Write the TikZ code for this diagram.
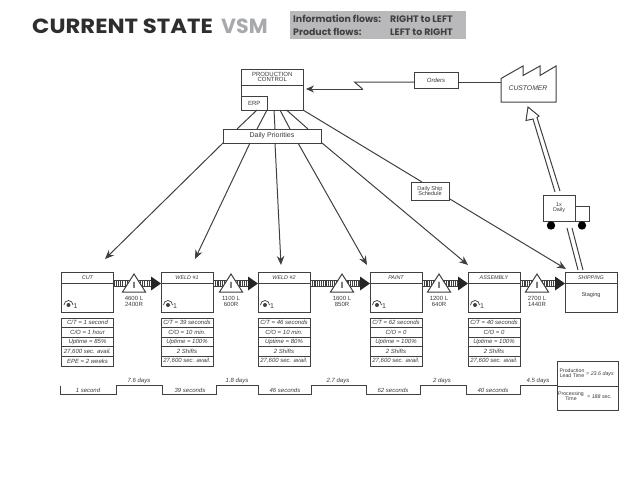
\documentclass[tikz,border=0pt]{standalone}
\usepackage{fontspec}
\setmainfont{Liberation Sans}
\newfontfamily\titlef{Poppins}
\newfontfamily\titlewide[FakeStretch=1.11]{Poppins}
\usetikzlibrary{arrows.meta}
\definecolor{ink}{HTML}{404040}
\definecolor{txt}{HTML}{3A3A3A}
\definecolor{greyv}{HTML}{A7A9AC}
\definecolor{legend}{HTML}{B9B9BB}
\newcommand\hand[1]{\fontsize{#1}{#1}\selectfont\itshape\color{txt}}
\newcommand\handup[1]{\fontsize{#1}{#1}\selectfont\color{txt}}
\tikzset{
  x=1pt,y=-1pt,
  line/.style={draw=ink,line width=1pt},
  bx/.style={line,fill=white,inner sep=0pt,outer sep=0pt,align=center,anchor=north west},
  flow/.style={line,-{Stealth[length=9pt,width=7.5pt]}},
  plain/.style={line},
  lab/.style={inner sep=0pt,align=center,text=txt},
  time/.style={lab,font=\hand{6}},
  stockl/.style={lab,font=\handup{6}},
  legt/.style={anchor=base west,inner sep=0pt,font=\titlef\bfseries\fontsize{9.4}{9.4}\selectfont,text=black!75},
}
\newcommand\proc[4]{% name, x, header, operator
  \node[bx,minimum width=52,minimum height=11.5,font=\hand{5.4}] (#1H) at (#2,272) {#3};
  \node[bx,minimum width=52,minimum height=28.5] (#1B) at (#2,283.5) {};
}
\newcommand\oper[2]{% name, x
  \fill[ink] (#2+7,305) circle (2);
  \draw[ink,line width=.7pt] (#2+2.5,305) arc[start angle=180,end angle=360,radius=4.5];
  \node[lab,font=\handup{7}] (#1O) at (#2+14,306) {1};
}
\newcommand\data[7]{%
  \node[bx,minimum width=52,minimum height=9.6,font=\hand{6}] (#1a) at (#2,318) {#3};
  \node[bx,minimum width=52,minimum height=9.6,font=\hand{6}] (#1b) at (#2,327.6) {#4};
  \node[bx,minimum width=52,minimum height=9.6,font=\hand{6}] (#1c) at (#2,337.2) {#5};
  \node[bx,minimum width=52,minimum height=9.6,font=\hand{6}] (#1d) at (#2,346.8) {#6};
  \node[bx,minimum width=52,minimum height=9.6,font=\hand{6}] (#1e) at (#2,356.4) {#7};
}
\newcommand\push[4]{% from, to, triangle x, stock label
  \draw[line width=5.5pt,ink,dash pattern=on 1.1pt off 1.1pt] (#1H.south east) -- ([xshift=-8pt]#2H.south west);
  \draw[ink,line width=.7pt] ([yshift=3pt]#1H.south east) -- ([xshift=-8pt,yshift=3pt]#2H.south west);
  \draw[ink,line width=.7pt] ([yshift=-3pt]#1H.south east) -- ([xshift=-8pt,yshift=-3pt]#2H.south west);
  \fill[black!85] (#2H.south west) -- ++(-10,-7) -- ++(0,14) -- cycle;
  \draw[line,fill=white,line join=miter] (#3,274) -- (#3-11.5,292) -- (#3+11.5,292) -- cycle;
  \node[lab,font=\fontsize{9}{9}\selectfont\bfseries\rmfamily] (#1I) at (#3,285.5) {I};
  \node[stockl,anchor=north] (#1S) at (#3,296.5) {#4};
}
\begin{document}
\begin{tikzpicture}
\useasboundingbox (0,0) rectangle (638,479);
% title
\node[anchor=base west,inner sep=0pt,font=\titlewide\bfseries\fontsize{20.5}{20.5}\selectfont,text=black!82] (title) at (32,34) {CURRENT STATE};
\node[anchor=base west,inner sep=0pt,font=\titlef\bfseries\fontsize{20.5}{20.5}\selectfont,text=greyv] (vsm) at (221,34) {VSM};
% legend
\node[anchor=north west,fill=legend,minimum width=176,minimum height=28,inner sep=0pt] (leg) at (290,11) {};
\node[legt] (l1) at (293,23) {Information flows:};
\node[legt] (l2) at (293,35) {Product flows:};
\node[legt] (l3) at (390,23) {RIGHT to LEFT};
\node[legt] (l4) at (390,35) {LEFT to RIGHT};
% production control
\node[bx,minimum width=61.5,minimum height=16,font=\handup{6},text=txt] (pcH) at (241.5,69) {PRODUCTION\\[-.5pt]CONTROL};
\node[bx,minimum width=61.5,minimum height=25] (pc) at (241.5,85) {};
\node[bx,minimum width=25.5,minimum height=14,font=\handup{6}] (erp) at (241.5,96) {ERP};
% daily priorities
\node[bx,minimum width=98,minimum height=14,font=\handup{7}] (dp) at (223,129) {Daily Priorities};
% orders, customer
\node[bx,minimum width=44,minimum height=16,font=\hand{6}] (orders) at (414,72) {Orders};
\draw[line,fill=white] (501,78.5) -- (523,66) -- (523,75.5) -- (540,66) -- (540,75.5) -- (556,66) -- (556,102) -- (501,102) -- cycle;
\node[lab,font=\hand{6.8}] (customer) at (528,88.5) {CUSTOMER};
\coordinate (custin) at (501,82);
\coordinate (zig1) at (354.5,82);
\coordinate (zig2) at (362.5,89);
\coordinate (pcin) at (306,89);
\draw[plain] (orders.west |- custin) -- (zig1) -- (zig2);
\draw[ink,line width=1pt,-{Stealth[length=8pt,width=7pt]}] (zig2) -- (pcin);
\draw[plain] (orders.east |- custin) -- (custin);
% processes
\proc{cut}{61.5}{CUT}{}
\proc{wa}{161}{WELD \#1}{}
\proc{wb}{258}{WELD \#2}{}
\proc{paint}{370}{PAINT}{}
\proc{asm}{468}{ASSEMBLY}{}
\proc{ship}{565}{SHIPPING}{}
\node[lab,font=\handup{5.6}] (staging) at (591,295) {Staging};
\oper{cut}{61.5}\oper{wa}{161}\oper{wb}{258}\oper{paint}{370}\oper{asm}{468}
% push arrows with inventory
\push{cut}{wa}{134}{4600 L\\2400R}
\push{wa}{wb}{231}{1100 L\\600R}
\push{wb}{paint}{342}{1600 L\\850R}
\push{paint}{asm}{439}{1200 L\\640R}
\push{asm}{ship}{537}{2700 L\\1440R}
% data boxes
\data{dc}{61.5}{C/T = 1 second}{C/O = 1 hour}{Uptime = 85\%}{27,600 sec. avail.}{EPE = 2 weeks}
\data{da}{161}{C/T = 39 seconds}{C/O = 10 min.}{Uptime = 100\%}{2 Shifts}{27,600 sec. avail.}
\data{db}{258}{C/T = 46 seconds}{C/O = 10 min.}{Uptime = 80\%}{2 Shifts}{27,600 sec. avail.}
\data{dp2}{370}{C/T = 62 seconds}{C/O = 0}{Uptime = 100\%}{2 Shifts}{27,600 sec. avail.}
\data{ds}{468}{C/T = 40 seconds}{C/O = 0}{Uptime = 100\%}{2 Shifts}{27,600 sec. avail.}
% connectors from production control through daily priorities
\coordinate (a1) at (257,110); \coordinate (a2) at (237,129);
\coordinate (b1) at (267,110); \coordinate (b2) at (257,129);
\coordinate (c1) at (274,110); \coordinate (c2) at (275,129);
\coordinate (d1) at (280,110); \coordinate (d2) at (290,129);
\coordinate (e1) at (286.5,110); \coordinate (e2) at (308,129);
\coordinate (f1) at (303,110);
\draw[plain] (a1) -- (a2); \draw[plain] (b1) -- (b2); \draw[plain] (c1) -- (c2);
\draw[plain] (d1) -- (d2); \draw[plain] (e1) -- (e2);
\coordinate (a3) at (223,143); \coordinate (b3) at (250,143); \coordinate (c3) at (275,143);
\coordinate (d3) at (298,143); \coordinate (e3) at (322,143);
\coordinate (a4) at (105,259); \coordinate (b4) at (195,259); \coordinate (c4) at (281,265);
\coordinate (d4) at (367,265); \coordinate (e4) at (468,265); \coordinate (f4) at (566,269);
\draw[flow] (a3) -- (a4);
\draw[flow] (b3) -- (b4);
\draw[flow] (c3) -- (c4);
\draw[flow] (d3) -- (d4);
\draw[flow] (e3) -- (e4);
\node[bx,minimum width=38,minimum height=18,font=\handup{5.6}] (dss) at (411,182) {Daily Ship\\Schedule};
\coordinate (g1) at (422,182); \coordinate (g2) at (449,198.5);
\draw[plain] (f1) -- (g1);
\draw[flow] (g2) -- (f4);
% truck
\node[bx,minimum width=32,minimum height=26,font=\handup{5.4}] (truck) at (543,195) {1x\\Daily};
\node[bx,minimum width=14,minimum height=15] (cab) at (575,206) {};
\fill[black] (551,225.5) circle (4.2) (582,225.5) circle (4.2);
% shipments
\coordinate (s1) at (555,192); \coordinate (s2) at (560,191);
\draw[line,line join=miter,fill=white] (s1) -- (533,119) -- (526,120.5) -- (528,107) -- (539,116) -- (537,117.5) -- (s2);
\coordinate (t1) at (567,228); \coordinate (t2) at (578,270);
\coordinate (t3) at (572,228); \coordinate (t4) at (583,270);
\draw[plain] (t1) -- (t2); \draw[plain] (t3) -- (t4);
% timeline
\draw[line] (60,385.5) -- (60,394) -- (116,394) -- (116,385.5) -- (162,385.5) -- (162,394) -- (216,394) -- (216,385.5) -- (258,385.5) -- (258,394) -- (311,394) -- (311,385.5) -- (366,385.5) -- (366,394) -- (420,394) -- (420,385.5) -- (466,385.5) -- (466,394) -- (520,394) -- (520,385.5) -- (557,385.5);
\node[time] (t01) at (88,390) {1 second};
\node[time] (t02) at (139,381) {7.6 days};
\node[time] (t03) at (190,390) {39 seconds};
\node[time] (t04) at (237,381) {1.8 days};
\node[time] (t05) at (285,390) {46 seconds};
\node[time] (t06) at (338,381) {2.7 days};
\node[time] (t07) at (393,390) {62 seconds};
\node[time] (t08) at (442,381) {2 days};
\node[time] (t09) at (493,390) {40 seconds};
\node[time] (t10) at (538,381) {4.5 days};
% summary
\node[bx,minimum width=61,minimum height=25] (sum1) at (557,361) {};
\node[bx,minimum width=61,minimum height=24] (sum2) at (557,386) {};
\node[lab,font=\handup{5.2}] (sa) at (572,373.5) {Production\\Lead Time};
\node[lab,font=\hand{5.3},anchor=west] (sb) at (586,374) {= 23.6 days};
\node[lab,font=\handup{5.2}] (sc) at (571,396) {Processing\\Time};
\node[lab,font=\hand{5.3},anchor=west] (sd) at (587,397) {= 188 sec.};
\end{tikzpicture}
\end{document}
